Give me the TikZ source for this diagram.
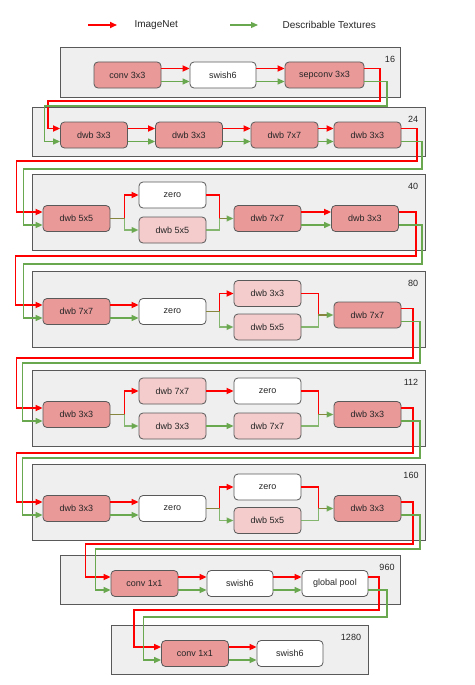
\documentclass[tikz,border=0pt]{standalone}
\usepackage{fontspec}
\setmainfont{Liberation Sans}
\usetikzlibrary{arrows.meta}

\definecolor{boxred}{HTML}{EA9999}
\definecolor{boxpink}{HTML}{F4CCCC}
\definecolor{stagegray}{HTML}{EFEFEF}
\definecolor{edgegray}{HTML}{595959}
\definecolor{inred}{HTML}{FF0000}
\definecolor{dtgreen}{HTML}{6AA84F}

\begin{document}
\begin{tikzpicture}[x=1pt,y=-1pt,
  op/.style={draw=edgegray,line width=0.8pt,rectangle,rounded corners=4pt,minimum width=67pt,minimum height=26pt,inner sep=0pt,font=\fontsize{9}{10}\selectfont,text=black!85},
  hot/.style={op,fill=boxred},
  warm/.style={op,fill=boxpink},
  cold/.style={op,fill=white},
  stage/.style={draw=edgegray,fill=stagegray,line width=0.9pt},
  chan/.style={font=\fontsize{9}{10}\selectfont,text=black!85},
  rd/.style={draw=inred,line width=1.6pt,-{Triangle[length=7pt,width=6pt]}},
  gr/.style={draw=dtgreen,line width=1.2pt,-{Triangle[length=7pt,width=6pt]}},
  gb/.style={gr,draw opacity=0.8}]

\useasboundingbox (0,0) rectangle (474,685);

% legend
\coordinate (lr0) at (88,25);
\coordinate (lr1) at (117,25);
\coordinate (lg0) at (230,25);
\coordinate (lg1) at (258,25);
\draw[rd] (lr0) -- (lr1);
\draw[gr] (lg0) -- (lg1);
\node (limg) [anchor=west,font=\fontsize{10}{12}\selectfont,text=black!85] at (131,25) {ImageNet};
\node (ldtd) [anchor=west,font=\fontsize{10}{12}\selectfont,text=black!85] at (279,25) {Describable Textures};

% stages
\draw[stage] (60,47) rectangle (400,97);
\draw[stage] (32,107) rectangle (425,156);
\draw[stage] (32,174) rectangle (425,250);
\draw[stage] (32,271) rectangle (425,347);
\draw[stage] (32,370) rectangle (425,446);
\draw[stage] (32,464) rectangle (425,540);
\draw[stage] (60,555) rectangle (400,604);
\draw[stage] (111,625) rectangle (368,674);

\node (l16) [chan] at (390,59) {16};
\node (l24) [chan] at (413,119) {24};
\node (l40) [chan] at (413,186) {40};
\node (l80) [chan] at (413,283) {80};
\node (l112) [chan] at (411,382) {112};
\node (l160) [chan] at (411,475) {160};
\node (l960) [chan] at (387,567) {960};
\node (l1280) [chan] at (351,637) {1280};

% 16
\node (s16a) [hot] at (127.5,75) {conv 3x3};
\node (s16b) [cold,minimum width=66pt] at (223,75) {swish6};
\node (s16c) [hot,minimum width=79pt] at (324.5,75) {sepconv 3x3};

% 24
\node (s24a) [hot] at (94,135) {dwb 3x3};
\node (s24b) [hot] at (189,135) {dwb 3x3};
\node (s24c) [hot] at (284.5,135) {dwb 7x7};
\node (s24d) [hot] at (367.5,135) {dwb 3x3};

% 40
\node (s40a) [hot] at (76.5,218.5) {dwb 5x5};
\node (s40u) [cold] at (172.5,195) {zero};
\node (s40l) [warm] at (172.5,230) {dwb 5x5};
\node (s40b) [hot] at (267.5,218.5) {dwb 7x7};
\node (s40c) [hot] at (365,218.5) {dwb 3x3};

% 80
\node (s80a) [hot] at (76.5,311.5) {dwb 7x7};
\node (s80b) [cold] at (172.5,311.5) {zero};
\node (s80u) [warm] at (267.5,293.5) {dwb 3x3};
\node (s80l) [warm] at (267.5,327) {dwb 5x5};
\node (s80c) [hot] at (367.5,315) {dwb 7x7};

% 112
\node (s112a) [hot] at (76.5,414.5) {dwb 3x3};
\node (s112u) [warm] at (172.5,391) {dwb 7x7};
\node (s112v) [cold] at (267.5,391) {zero};
\node (s112l) [warm] at (172.5,426) {dwb 3x3};
\node (s112m) [warm] at (267.5,426) {dwb 7x7};
\node (s112b) [hot] at (367.5,414.5) {dwb 3x3};

% 160
\node (s160a) [hot] at (76.5,508.5) {dwb 3x3};
\node (s160b) [cold] at (172.5,508.5) {zero};
\node (s160u) [cold] at (267.5,487) {zero};
\node (s160l) [warm] at (267.5,520.5) {dwb 5x5};
\node (s160c) [hot] at (367.5,508.5) {dwb 3x3};

% 960
\node (s960a) [hot] at (144.5,583.5) {conv 1x1};
\node (s960b) [cold,minimum width=66pt] at (240,583.5) {swish6};
\node (s960c) [cold,minimum width=66pt] at (335,583.5) {global pool};

% 1280
\node (s1280a) [hot] at (195,653.5) {conv 1x1};
\node (s1280b) [cold,minimum width=66pt] at (290,653.5) {swish6};

% straight links
\foreach \a/\b in {s16a/s16b,s16b/s16c,s24a/s24b,s24b/s24c,s24c/s24d,s40b/s40c,s80a/s80b,s160a/s160b,s960a/s960b,s960b/s960c,s1280a/s1280b} {
  \draw[rd] ([yshift=6.5pt]\a.east) -- ([yshift=6.5pt]\b.west);
  \draw[gr] ([yshift=-6.5pt]\a.east) -- ([yshift=-6.5pt]\b.west);
}
\draw[rd] (s112u) -- (s112v);
\draw[gr] (s112l) -- (s112m);

% branches and merges
\draw[rd] (s40a.east) -- ++(14,0) |- (s40u.west);
\draw[gb] (s40a.east) -- ++(14,0) |- (s40l.west);
\draw[rd,-] (s40u.east) -- ++(13,0) |- ([xshift=-7pt]s40b.west);
\draw[gb] (s40l.east) -- ++(13,0) |- (s40b.west);

\draw[rd] (s80b.east) -- ++(13,0) |- (s80u.west);
\draw[gb] (s80b.east) -- ++(13,0) |- (s80l.west);
\draw[rd,-] (s80u.east) -- ++(17,0) |- ([xshift=-7pt]s80c.west);
\draw[gb] (s80l.east) -- ++(17,0) |- (s80c.west);

\draw[rd] (s112a.east) -- ++(14,0) |- (s112u.west);
\draw[gb] (s112a.east) -- ++(14,0) |- (s112l.west);
\draw[rd,-] (s112v.east) -- ++(17,0) |- ([xshift=-7pt]s112b.west);
\draw[gb] (s112m.east) -- ++(17,0) |- (s112b.west);

\draw[rd] (s160b.east) -- ++(13,0) |- (s160u.west);
\draw[gb] (s160b.east) -- ++(13,0) |- (s160l.west);
\draw[rd,-] (s160u.east) -- ++(17,0) |- ([xshift=-7pt]s160c.west);
\draw[gb] (s160l.east) -- ++(17,0) |- (s160c.west);

% wraps between stages
\draw[rd] ([yshift=6.5pt]s16c.east) -| (380,101) -| ([xshift=-12pt,yshift=6.5pt]s24a.west) -- ([yshift=6.5pt]s24a.west);
\draw[gr] ([yshift=-6.5pt]s16c.east) -| (387,106) -| ([xshift=-16pt,yshift=-6.5pt]s24a.west) -- ([yshift=-6.5pt]s24a.west);

\draw[rd] ([yshift=6.5pt]s24d.east) -| (417,161) -| ([xshift=-26pt,yshift=6.5pt]s40a.west) -- ([yshift=6.5pt]s40a.west);
\draw[gr] ([yshift=-6.5pt]s24d.east) -| (422,169) -| ([xshift=-19pt,yshift=-6.5pt]s40a.west) -- ([yshift=-6.5pt]s40a.west);

\draw[rd] ([yshift=6.5pt]s40c.east) -| (416,256) -| ([xshift=-27pt,yshift=6.5pt]s80a.west) -- ([yshift=6.5pt]s80a.west);
\draw[gr] ([yshift=-6.5pt]s40c.east) -| (422,264) -| ([xshift=-19pt,yshift=-6.5pt]s80a.west) -- ([yshift=-6.5pt]s80a.west);

\draw[rd] ([yshift=6.5pt]s80c.east) -| (413,358) -| ([xshift=-26pt,yshift=6.5pt]s112a.west) -- ([yshift=6.5pt]s112a.west);
\draw[gr] ([yshift=-6.5pt]s80c.east) -| (420,363) -| ([xshift=-20pt,yshift=-6.5pt]s112a.west) -- ([yshift=-6.5pt]s112a.west);

\draw[rd] ([yshift=6.5pt]s112b.east) -| (413,453) -| ([xshift=-26pt,yshift=6.5pt]s160a.west) -- ([yshift=6.5pt]s160a.west);
\draw[gr] ([yshift=-6.5pt]s112b.east) -| (420,458) -| ([xshift=-20pt,yshift=-6.5pt]s160a.west) -- ([yshift=-6.5pt]s160a.west);

\draw[rd] ([yshift=6.5pt]s160c.east) -| (413,544) -| ([xshift=-25pt,yshift=6.5pt]s960a.west) -- ([yshift=6.5pt]s960a.west);
\draw[gr] ([yshift=-6.5pt]s160c.east) -| (420,549) -| ([xshift=-15pt,yshift=-6.5pt]s960a.west) -- ([yshift=-6.5pt]s960a.west);

\draw[rd] ([yshift=6.5pt]s960c.east) -| (379,610) -| ([xshift=-27pt,yshift=6.5pt]s1280a.west) -- ([yshift=6.5pt]s1280a.west);
\draw[gr] ([yshift=-6.5pt]s960c.east) -| (387,617) -| ([xshift=-18pt,yshift=-6.5pt]s1280a.west) -- ([yshift=-6.5pt]s1280a.west);

\end{tikzpicture}
\end{document}
